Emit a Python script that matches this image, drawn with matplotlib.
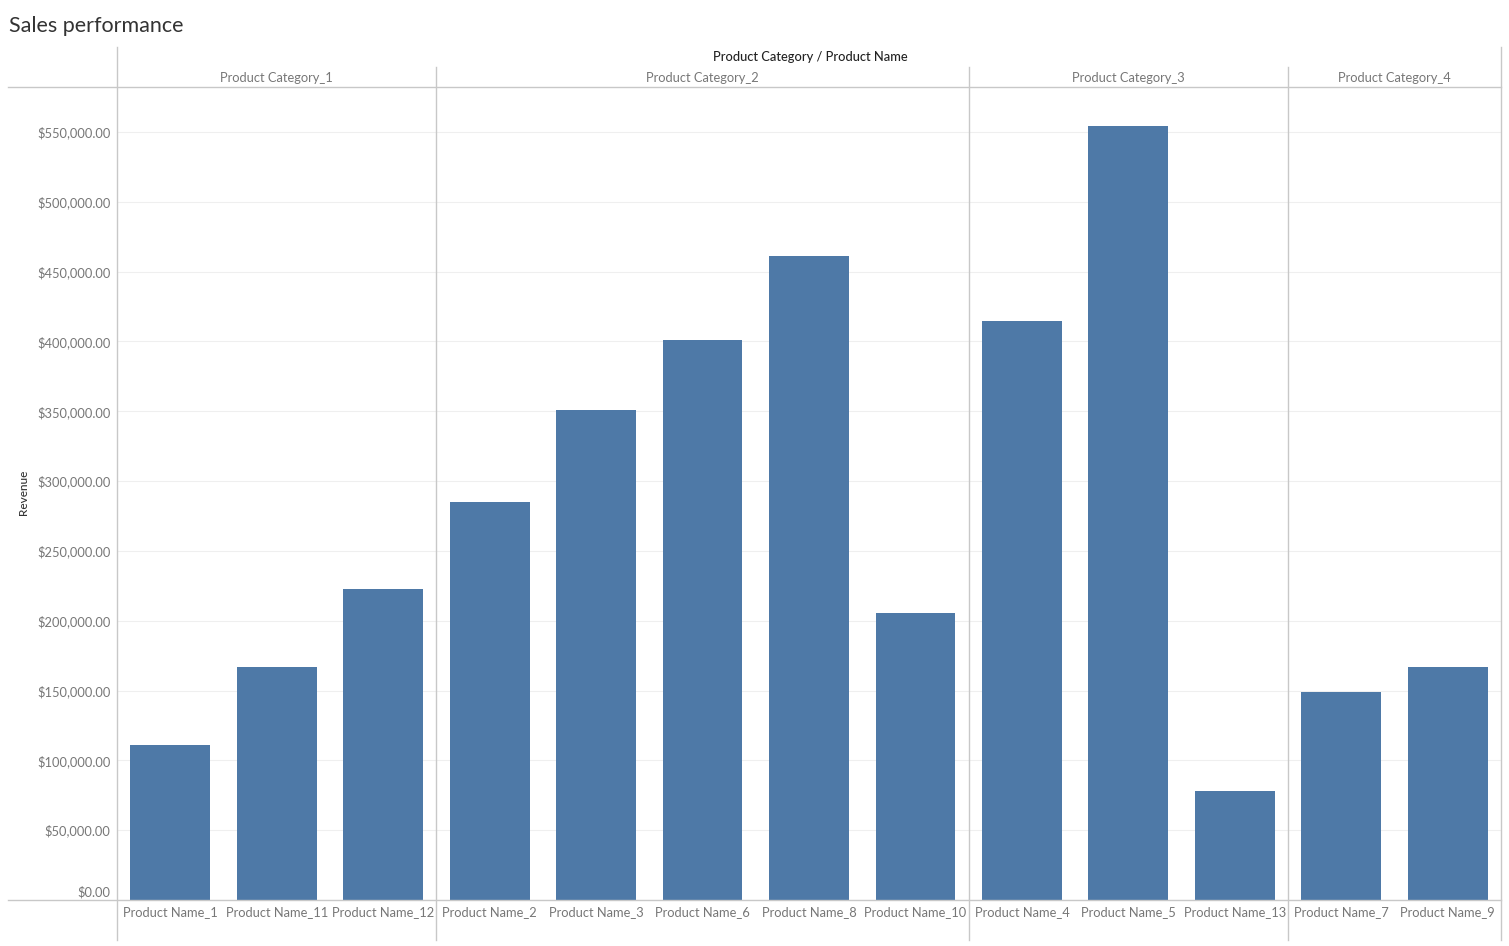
import matplotlib
matplotlib.use("Agg")
import matplotlib.pyplot as plt
from matplotlib.lines import Line2D
from matplotlib.transforms import blended_transform_factory, ScaledTranslation
from matplotlib.ticker import FuncFormatter, MultipleLocator

plt.rcParams['font.family'] = ['Lato', 'DejaVu Sans']

categories = ["Product Category_1"] * 3 + ["Product Category_2"] * 5 + \
             ["Product Category_3"] * 3 + ["Product Category_4"] * 2
products = ["Product Name_1", "Product Name_11", "Product Name_12",
            "Product Name_2", "Product Name_3", "Product Name_6", "Product Name_8", "Product Name_10",
            "Product Name_4", "Product Name_5", "Product Name_13",
            "Product Name_7", "Product Name_9"]
revenue = [111000, 167000, 223000,
           285000, 351000, 401000, 461500, 205800,
           414800, 554500, 78000,
           149000, 166500]

W, H = 1509, 946
fig = plt.figure(figsize=(W / 100, H / 100), dpi=100)
fig.patch.set_facecolor("white")

def fx(px):
    return px / W

def fy(py):
    return 1 - py / H

ax_left, ax_right, ax_top, ax_bottom = 117, 1501, 87, 900
ax = fig.add_axes([fx(ax_left), fy(ax_bottom), fx(ax_right - ax_left), fy(ax_top) - fy(ax_bottom)])

x = list(range(len(products)))
ax.bar(x, revenue, width=0.75, color="#4e79a7", zorder=3)
ax.set_xlim(-0.5, len(products) - 0.5)
ax.set_ylim(0, 582200)

ax.yaxis.set_major_locator(MultipleLocator(50000))
ax.yaxis.set_major_formatter(FuncFormatter(lambda v, p: "${:,.2f}".format(v)))
ax.grid(axis="y", color="#efefef", linewidth=0.8, zorder=0)
ax.set_xticks(x)
ax.set_xticklabels(products)
ax.tick_params(axis="both", length=0, labelcolor="#777777", labelsize=9.3)
ax.tick_params(axis="x", pad=4)
ax.tick_params(axis="y", pad=4.8)
for s in ax.spines.values():
    s.set_visible(False)

# lift the $0.00 label above the baseline as in the reference
fig.canvas.draw()
for tick in ax.yaxis.get_major_ticks():
    if abs(tick.get_loc()) < 1e-6:
        tick.label1.set_verticalalignment("bottom")
        tick.label1.set_transform(tick.label1.get_transform() +
                                  ScaledTranslation(0, 0.02, fig.dpi_scale_trans))

line_col = "#c8c8c8"

def fline(x0, y0, x1, y1, lw=1.0, color=line_col):
    fig.add_artist(Line2D([fx(x0), fx(x1)], [fy(y0), fy(y1)], color=color, linewidth=lw,
                          transform=fig.transFigure))

fline(8, ax_top, ax_right, ax_top)
fline(8, ax_bottom, ax_right, ax_bottom)
fline(ax_left, 47, ax_left, 940)
fline(ax_right, 47, ax_right, 940)

trans = blended_transform_factory(ax.transData, fig.transFigure)
cat_order = []
for c in categories:
    if c not in cat_order:
        cat_order.append(c)
start = 0
for i, c in enumerate(cat_order):
    n = categories.count(c)
    end = start + n
    center = (start + end - 1) / 2
    fig.text(center, fy(78), c, transform=trans, ha="center", va="center",
             fontsize=9.3, color="#777777")
    if i < len(cat_order) - 1:
        fig.add_artist(Line2D([end - 0.5, end - 0.5], [fy(67), fy(940)], color=line_col,
                              linewidth=1.0, transform=trans))
    start = end

fig.text(fx(810), fy(57), "Product Category / Product Name", ha="center", va="center",
         fontsize=9.3, color="#222222", fontweight="medium")
fig.text(fx(9), fy(26), "Sales performance", ha="left", va="center", fontsize=15.5,
         color="#333333")
fig.text(fx(24), fy(492), "Revenue", ha="center", va="center", rotation=90,
         fontsize=8.5, color="#333333", fontweight="medium")

fig.savefig("out.png", dpi=100, facecolor="white")
